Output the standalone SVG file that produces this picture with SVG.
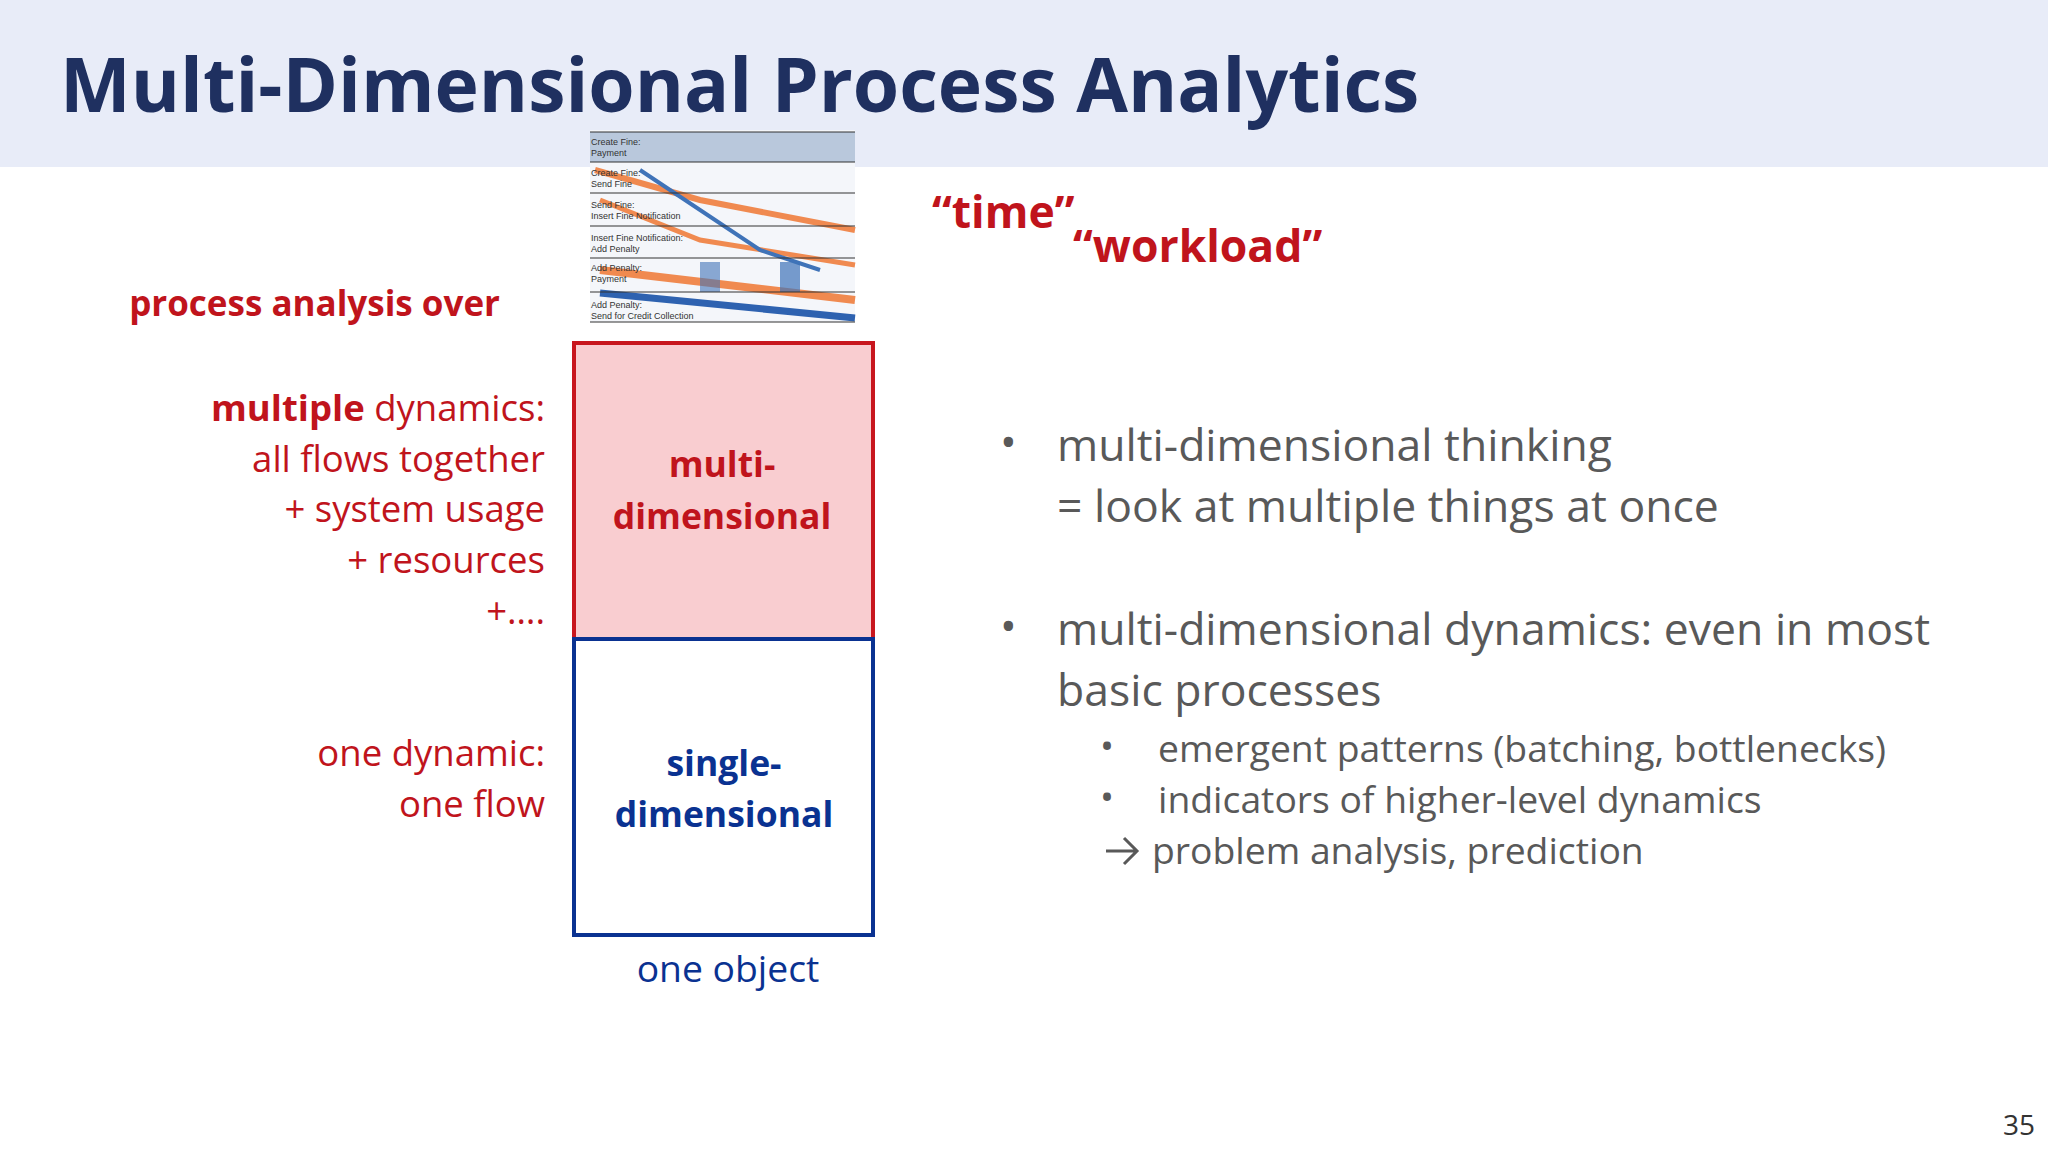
<svg xmlns="http://www.w3.org/2000/svg" width="2048" height="1152" viewBox="0 0 2048 1152">
<style>
text{font-family:"Open Sans","Noto Sans","Liberation Sans",sans-serif}
.red{fill:#c0141c}.blue{fill:#0a3291}.grey{fill:#595959}
.b{font-weight:bold}
.l{font-size:36.5px;text-anchor:end}
.t{font-size:44.5px}.s{font-size:37.3px}.bx{font-size:35.5px}
.th{font-size:9px;fill:#333;font-family:"Liberation Sans",sans-serif}
</style>
<rect width="2048" height="1152" fill="#fff"/>
<rect width="2048" height="167" fill="#e8ecf8"/>
<text x="60" y="112" font-size="75" class="b" fill="#1f3060">Multi-Dimensional Process Analytics</text>
<g id="thumbnail">
<rect x="590" y="130" width="265" height="192" fill="#f4f6fa"/>
<rect x="590" y="132" width="265" height="30" fill="#b9c8dc"/>
<path d="M595 170 L700 200 L855 230" stroke="#f08a50" stroke-width="6" fill="none"/>
<path d="M600 200 L700 240 L855 265" stroke="#f08a50" stroke-width="5" fill="none"/>
<path d="M640 170 L760 250 L820 270" stroke="#3f73b8" stroke-width="4" fill="none"/>
<path d="M600 270 L855 300" stroke="#f08a50" stroke-width="8" fill="none"/>
<path d="M600 293 L855 318" stroke="#2e62b0" stroke-width="7" fill="none"/>
<rect x="700" y="262" width="20" height="30" fill="#3f73b8" opacity=".6"/>
<rect x="780" y="262" width="20" height="30" fill="#3f73b8" opacity=".7"/>
<g stroke="#333" stroke-width="1.2">
<line x1="590" y1="132" x2="855" y2="132"/><line x1="590" y1="162" x2="855" y2="162"/>
<line x1="590" y1="193" x2="855" y2="193"/><line x1="590" y1="226" x2="855" y2="226"/>
<line x1="590" y1="258" x2="855" y2="258"/><line x1="590" y1="292" x2="855" y2="292"/>
<line x1="590" y1="322" x2="855" y2="322"/>
</g>
<text class="th" x="591" y="145">Create Fine:</text><text class="th" x="591" y="156">Payment</text>
<text class="th" x="591" y="176">Create Fine:</text><text class="th" x="591" y="187">Send Fine</text>
<text class="th" x="591" y="208">Send Fine:</text><text class="th" x="591" y="219">Insert Fine Notification</text>
<text class="th" x="591" y="241">Insert Fine Notification:</text><text class="th" x="591" y="252">Add Penalty</text>
<text class="th" x="591" y="271">Add Penalty:</text><text class="th" x="591" y="282">Payment</text>
<text class="th" x="591" y="308">Add Penalty:</text><text class="th" x="591" y="319">Send for Credit Collection</text>
</g>
<text x="932" y="228" class="t b red">“time”</text>
<text x="1073" y="262" class="t b red">“workload”</text>
<text x="500" y="316" font-size="35" class="b red" text-anchor="end">process analysis over</text>
<g id="left-multi" class="red">
<text x="545" y="421" class="l"><tspan font-weight="bold">multiple</tspan> dynamics:</text>
<text x="545" y="472" class="l">all flows together</text>
<text x="545" y="522" class="l">+ system usage</text>
<text x="545" y="573" class="l">+ resources</text>
<text x="545" y="624" class="l">+….</text>
</g>
<g id="left-single" class="red">
<text x="545" y="766" class="l">one dynamic:</text>
<text x="545" y="817" class="l">one flow</text>
</g>
<g id="multi">
<rect x="574" y="343" width="299" height="296" fill="#f9cdd0" stroke="#c8161e" stroke-width="4"/>
<text x="722" y="477" class="bx b red" text-anchor="middle">multi-</text>
<text x="722" y="529" class="bx b red" text-anchor="middle">dimensional</text>
</g>
<g id="single">
<rect x="574" y="639" width="299" height="296" fill="#fff" stroke="#0a3291" stroke-width="4"/>
<text x="724" y="776" class="bx b blue" text-anchor="middle">single-</text>
<text x="724" y="827" class="bx b blue" text-anchor="middle">dimensional</text>
</g>
<text x="728" y="982" class="s blue" text-anchor="middle">one object</text>
<g id="bullets" class="grey">
<text x="1000" y="458" class="t">•</text>
<text x="1057" y="461" class="t">multi-dimensional thinking</text>
<text x="1057" y="522" class="t">= look at multiple things at once</text>
<text x="1000" y="642" class="t">•</text>
<text x="1057" y="645" class="t">multi-dimensional dynamics: even in most</text>
<text x="1057" y="706" class="t">basic processes</text>
<text x="1100" y="759" class="s">•</text>
<text x="1158" y="762" class="s">emergent patterns (batching, bottlenecks)</text>
<text x="1100" y="810" class="s">•</text>
<text x="1158" y="813" class="s">indicators of higher-level dynamics</text>
<path d="M1106 851 H1136 M1124 838 L1137 851 L1124 864" stroke="#595959" stroke-width="3" fill="none"/>
<text x="1152" y="864" class="s">problem analysis, prediction</text>
</g>
<text x="2035" y="1135" font-size="28" fill="#333" text-anchor="end">35</text>
</svg>
